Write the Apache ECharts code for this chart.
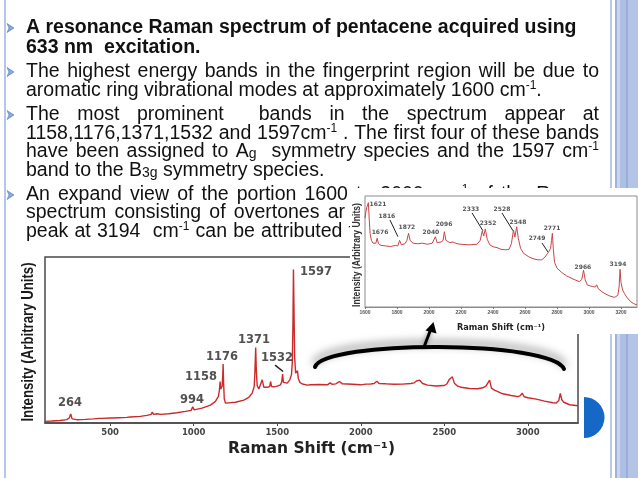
<!DOCTYPE html>
<html>
<head>
<meta charset="utf-8">
<script src="https://cdn.jsdelivr.net/npm/echarts@6/dist/echarts.min.js"></script>
<style>
html,body{margin:0;padding:0;background:#fff;}
#chart{width:638px;height:478px;}
</style>
</head>
<body>
<div id="chart"></div>
<script>
// ---------- DATA ----------
// Main spectrum (Raman shift, cm-1) and intensity (arbitrary units, 0-100)
const mainShift = [110,150,200,240,255,264,272,300,350,400,435,442,450,500,505,512,550,600,610,620,
  680,720,745,752,760,780,800,850,900,950,985,994,1003,1050,1100,1130,1148,1154,1158,1162,
  1166,1170,1174,1176,1179,1183,1190,1200,1250,1300,1330,1350,1362,1366,1371,1375,1380,1390,1400,1410,
  1420,1440,1455,1460,1466,1480,1500,1520,1527,1532,1537,1545,1560,1575,1585,1590,1594,1597,1600,1604,
  1610,1616,1621,1626,1635,1650,1680,1700,1750,1800,1816,1830,1850,1872,1890,1950,2000,2030,2040,2055,
  2080,2096,2110,2150,2200,2250,2300,2320,2333,2343,2352,2370,2400,2450,2500,2515,2528,2538,2548,2560,
  2580,2600,2650,2700,2730,2749,2760,2771,2782,2800,2850,2900,2940,2955,2966,2978,3000,3050,3100,3150,
  3170,3185,3194,3203,3215,3250,3300];
const mainIntensity = [1.0,1.2,1.5,2.0,3.0,5.5,2.5,2.0,2.2,2.5,2.8,3.8,2.8,3.0,4.2,3.0,3.2,3.4,4.6,3.6,
  4.0,4.6,5.2,6.6,5.2,5.6,5.2,5.6,6.2,7.0,7.6,9.8,7.9,9.0,10.8,13.0,16.0,20.0,25.0,20.5,
  20.0,22.0,29.0,35.5,24.0,14.5,12.0,11.8,12.5,13.8,15.5,18.0,22.0,30.0,45.5,31.0,22.5,20.5,21.0,26.0,
  21.5,21.5,22.0,25.0,22.0,21.8,22.2,23.0,25.0,29.5,24.5,23.5,24.0,26.0,29.0,36.0,60.0,92.5,70.0,40.0,
  30.0,29.0,31.5,27.0,24.5,23.5,22.8,23.0,23.2,23.0,24.2,23.3,23.6,25.0,23.6,23.3,23.0,23.4,24.4,23.4,
  23.8,25.2,23.8,23.6,23.3,23.4,23.8,24.2,25.3,25.0,25.8,23.8,22.8,22.3,22.6,23.5,26.0,25.5,27.8,24.0,
  22.2,21.5,20.8,20.6,21.2,22.2,22.8,25.8,21.0,19.8,17.6,16.6,15.9,16.5,18.0,15.8,15.2,14.4,13.2,12.2,
  12.0,13.5,17.8,14.0,12.5,11.0,10.4];
const mainTicks = [500,1000,1500,2000,2500,3000];
// peak annotations: [label x, label y, text]
const mainLabels = [[260,12,'264'],[990,13.9,'994'],[1044,27.7,'1158'],[1169,39.8,'1176'],
  [1361,50,'1371'],[1499,39.2,'1532'],[1732,91,'1597']];
const mainLeaders = [[1487,34.9,1535,31]];

// Inset: expanded view 1600-3300 cm-1
const insetShift = [1600,1606,1612,1621,1626,1632,1640,1650,1660,1668,1676,1684,1700,1730,1760,1790,1805,1816,1828,1850,
  1862,1872,1882,1900,1930,1960,1990,2020,2032,2040,2050,2075,2088,2096,2106,2130,2150,2175,2200,2250,
  2300,2320,2333,2342,2352,2364,2380,2400,2425,2450,2480,2500,2515,2528,2537,2548,2558,2572,2590,2620,
  2650,2680,2705,2725,2740,2749,2760,2766,2771,2777,2785,2800,2830,2860,2900,2940,2955,2966,2976,2990,
  3020,3040,3048,3058,3080,3100,3130,3160,3180,3188,3194,3200,3210,3222,3235,3260,3280,3300];
const insetIntensity = [80,86,90,94,80,66,60,57.5,56.5,57.5,62,57,55.5,55,54.5,55.5,55,60,56,57,
  60,66.4,60,57.5,57,57.5,56.5,57.5,59,63.3,58,58.5,60,67.8,60,58,58.5,57,56.5,56,
  56.5,60,68.5,64,70.3,61,56,54.3,53.5,52,51.5,52,57,69.4,63,72.3,62,53,48.5,45.5,
  43.5,42.5,42.5,45,48,50,53,60,66.4,52,40,35,31,28,25.2,22.8,25,33.3,24.5,19.8,
  18.5,18,20,16.5,13.8,12,9.9,8.7,10.5,18,34,22,15.3,12,9,4.8,3,1.8];
const insetTicks = [1600,1800,2000,2200,2400,2600,2800,3000,3200];
const insetLabels = [[1681,92.8,'1621'],[1694,66.9,'1676'],[1737,82,'1816'],[1862,72,'1872'],
  [2012,67.6,'2040'],[2094,74.8,'2096'],[2262,88.3,'2333'],[2369,75.7,'2352'],[2456,88.3,'2528'],
  [2556,76.6,'2548'],[2769,71.2,'2771'],[2675,62.2,'2749'],[2962,36,'2966'],[3181,38.7,'3194']];
const insetLeaders = [[1756,78.4,1806,63.3],[2269,84.7,2337,68.7],[2456,84.7,2525,68.7],[2706,57.7,2744,49.5]];

// Slide text lines: [text, baseline, style, justify-right-edge, bullet]
const slideLines = [
  ['A resonance Raman spectrum of pentacene acquired using', 34, 'b', 0, true],
  ['633 nm  excitation.', 54, 'b', 0, false],
  ['The highest energy bands in the fingerprint region will be due to', 78, 'n', 599, true],
  ['aromatic ring vibrational modes at approximately 1600 cm{sup|-1}.', 97, 'n', 0, false],
  ['The most prominent  bands in the spectrum appear at', 121, 'n', 599, true],
  ['1158,1176,1371,1532 and 1597cm{sup|-1} . The first four of these bands', 140, 'n', 599, false],
  ['have been assigned to A{sub|g}  symmetry species and the 1597 cm{sup|-1}', 158, 'n', 599, false],
  ['band to the B{sub|3g} symmetry species.', 177, 'n', 0, false],
  ['An expand view of the portion 1600 to 3000 cm{sup|-1} of the Raman', 201, 'n', 599, true],
  ['spectrum consisting of overtones ar', 219, 'n', 345, false],
  ['peak at 3194  cm{sup|-1} can be attributed t', 238, 'n', 354, false]
];

// ---------- RENDER ----------
const FONT = '"Liberation Sans", Arial, sans-serif';
const STY = {
  n: {size: 19.5, weight: 'normal', dy: 0},
  b: {size: 19.5, weight: 'bold', dy: 0},
  sup: {size: 12, weight: 'normal', dy: -7},
  sub: {size: 14, weight: 'normal', dy: 1}
};
const mctx = document.createElement('canvas').getContext('2d');
function fontOf(st){ return st.weight + ' ' + st.size + 'px ' + FONT; }
function measure(t, st){ mctx.font = fontOf(st); return mctx.measureText(t).width; }

function buildLine(str, x0, baseline, base, justifyTo){
  const parts = str.split(/( +)/);
  const seq = []; let spaceCount = 0;
  parts.forEach(p => {
    if (p === '') return;
    if (/^ +$/.test(p)) { seq.push({space: p.length}); spaceCount += p.length; return; }
    const frags = []; const re = /\{(\w+)\|([^}]*)\}|([^{]+)/g; let m;
    while ((m = re.exec(p))) {
      if (m[3] !== undefined) frags.push({t: m[3], st: base}); else frags.push({t: m[2], st: m[1]});
    }
    let w = 0; frags.forEach(f => { f.w = measure(f.t, STY[f.st]); w += f.w; });
    seq.push({frags, w});
  });
  let gap = measure(' ', STY[base]);
  if (justifyTo && spaceCount) {
    const total = seq.reduce((a, s) => a + (s.space ? 0 : s.w), 0);
    gap = (justifyTo - x0 - total) / spaceCount;
  }
  let x = x0; const els = [];
  seq.forEach(s => {
    if (s.space) { x += gap * s.space; return; }
    s.frags.forEach(f => {
      const st = STY[f.st];
      els.push({type: 'text', x: x, y: baseline + st.dy - 0.3465 * st.size, z: 1, silent: true,
        style: {text: f.t, font: fontOf(st), fill: '#111', align: 'left', verticalAlign: 'middle'}});
      x += f.w;
    });
  });
  return els;
}

const graphics = [];
// left slide border
graphics.push({type: 'rect', shape: {x: 4, y: 0, width: 2, height: 478}, style: {fill: '#b7c6e7'}, z: 1, silent: true});
// right decorative bars
const barRects = [[610,2,'#b9c8e8'],[615,2,'#9fb3dc'],[617,3,'#c9d5ee'],[620,6,'#adbfe3'],[626,2,'#98addb'],[628,10,'#b4c4e6']];
barRects.forEach(b => graphics.push({type: 'rect', shape: {x: b[0], y: 0, width: b[1], height: 478}, style: {fill: b[2]}, z: 1, silent: true}));
// slide text
slideLines.forEach(l => {
  buildLine(l[0], 26, l[1], l[2], l[3]).forEach(e => graphics.push(e));
  if (l[4]) {
    const cy = l[1] - 6;
    graphics.push({type: 'polygon', z: 1, silent: true,
      shape: {points: [[7, cy - 4.5], [14, cy], [7, cy + 4.5], [9, cy]]},
      style: {fill: '#86a8e6', stroke: '#4f76c2', lineWidth: 0.6}});
  }
});
// blue half disc
graphics.push({type: 'sector', shape: {cx: 584, cy: 417.5, r: 20.5, startAngle: -Math.PI/2, endAngle: Math.PI/2}, style: {fill: '#1668c6'}, z: 1, silent: true});
// main y-axis name
graphics.push({type: 'text', x: 28, y: 342, rotation: Math.PI/2, scaleX: 0.8, z: 3, silent: true,
  style: {text: 'Intensity (Arbitrary Units)', font: 'bold 16.5px ' + FONT, fill: '#1a1a1a', align: 'center', verticalAlign: 'middle'}});
// inset white panel
graphics.push({type: 'rect', shape: {x: 350, y: 188, width: 288, height: 146}, style: {fill: '#fff'}, z: 5, silent: true});
// inset y-axis name
graphics.push({type: 'text', x: 357, y: 255, rotation: Math.PI/2, scaleX: 0.82, z: 12, silent: true,
  style: {text: 'Intensity (Arbitrary Units)', font: 'bold 10.5px ' + FONT, fill: '#333', align: 'center', verticalAlign: 'middle'}});
// bracket + arrow
graphics.push({type: 'bezierCurve', shape: {x1: 315, y1: 367, x2: 564, y2: 369, cpx1: 325, cpy1: 340, cpx2: 552, cpy2: 340},
  style: {stroke: '#000', lineWidth: 4, fill: null, lineCap: 'round', shadowBlur: 9, shadowColor: 'rgba(0,0,0,0.5)', shadowOffsetY: -4}, z: 20, silent: true});
graphics.push({type: 'line', shape: {x1: 424, y1: 347, x2: 430.5, y2: 330}, style: {stroke: '#000', lineWidth: 3, shadowBlur: 5, shadowColor: 'rgba(0,0,0,0.4)'}, z: 20, silent: true});
graphics.push({type: 'polygon', shape: {points: [[433.5, 322], [425.5, 330.5], [436.5, 333.5]]}, style: {fill: '#000'}, z: 20, silent: true});

const zip = (a, b) => a.map((v, i) => [v, b[i]]);
const plain = v => String(v);

const option = {
  animation: false,
  backgroundColor: '#fff',
  grid: [
    {left: 45, top: 257, width: 533, height: 166, show: true, borderColor: '#4a4a4a', borderWidth: 1.5, backgroundColor: 'transparent', z: 0},
    {left: 365, top: 196, width: 272, height: 111, show: true, borderColor: '#8c8c8c', borderWidth: 1, backgroundColor: 'transparent', z: 10}
  ],
  xAxis: [
    {type: 'value', gridIndex: 0, min: 110, max: 3300,
     axisLine: {show: true, lineStyle: {color: '#4a4a4a', width: 1.5}},
     axisTick: {show: true, customValues: mainTicks, length: 3, lineStyle: {color: '#4a4a4a'}},
     axisLabel: {customValues: mainTicks, formatter: plain, margin: 5, fontSize: 8.5, color: '#444', fontFamily: 'DejaVu Sans', fontWeight: 'bold'},
     splitLine: {show: false},
     name: 'Raman Shift (cm⁻¹)', nameLocation: 'middle', nameGap: 18,
     nameTextStyle: {fontFamily: 'DejaVu Sans', fontWeight: 'bold', fontSize: 15.5, color: '#222'}},
    {type: 'value', gridIndex: 1, min: 1600, max: 3300, z: 10,
     axisLine: {show: true, lineStyle: {color: '#8c8c8c', width: 1}},
     axisTick: {show: true, customValues: insetTicks, length: 2, lineStyle: {color: '#777'}},
     axisLabel: {customValues: insetTicks, formatter: plain, margin: 3, fontSize: 5, color: '#555', fontFamily: FONT, fontWeight: 'bold'},
     splitLine: {show: false},
     name: 'Raman Shift (cm⁻¹)', nameLocation: 'middle', nameGap: 17,
     nameTextStyle: {fontFamily: 'DejaVu Sans', fontWeight: 'bold', fontSize: 8.2, color: '#222'}}
  ],
  yAxis: [
    {type: 'value', gridIndex: 0, min: 0, max: 100, show: false},
    {type: 'value', gridIndex: 1, min: 0, max: 100, show: false}
  ],
  series: [
    {type: 'line', xAxisIndex: 0, yAxisIndex: 0, data: zip(mainShift, mainIntensity), showSymbol: false, silent: true,
     lineStyle: {color: '#cc2a2a', width: 1.4}, z: 2},
    {type: 'scatter', xAxisIndex: 0, yAxisIndex: 0, data: mainLabels, symbolSize: 0, silent: true, z: 3,
     label: {show: true, position: 'inside', formatter: p => p.value[2], fontFamily: 'DejaVu Sans', fontWeight: 'bold', fontSize: 11.5, color: '#262626'},
     markLine: {silent: true, symbol: ['none', 'none'], label: {show: false}, animation: false,
       lineStyle: {color: '#222', width: 1.5, type: 'solid'},
       data: mainLeaders.map(l => [{coord: [l[0], l[1]]}, {coord: [l[2], l[3]]}])}},
    {type: 'line', xAxisIndex: 1, yAxisIndex: 1, data: zip(insetShift, insetIntensity), showSymbol: false, silent: true,
     lineStyle: {color: '#c84646', width: 1}, z: 12},
    {type: 'scatter', xAxisIndex: 1, yAxisIndex: 1, data: insetLabels, symbolSize: 0, silent: true, z: 13,
     label: {show: true, position: 'inside', formatter: p => p.value[2], fontFamily: 'DejaVu Sans', fontWeight: 'bold', fontSize: 6, color: '#262626'},
     markLine: {silent: true, symbol: ['none', 'none'], label: {show: false}, animation: false,
       lineStyle: {color: '#222', width: 1, type: 'solid'},
       data: insetLeaders.map(l => [{coord: [l[0], l[1]]}, {coord: [l[2], l[3]]}])}}
  ],
  graphic: {elements: graphics}
};

const chart = echarts.init(document.getElementById('chart'), null, {renderer: 'canvas'});
chart.setOption(option);
</script>
</body>
</html>
